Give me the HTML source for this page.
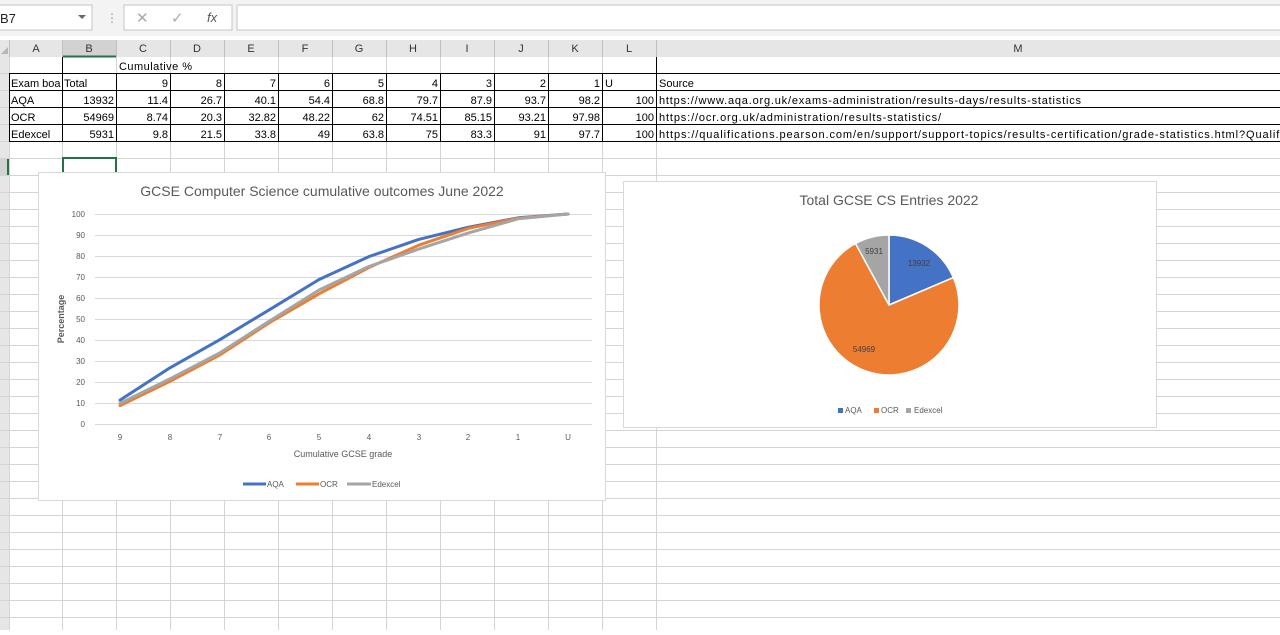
<!DOCTYPE html>
<html><head><meta charset="utf-8"><style>
body{margin:0;width:1280px;height:630px;overflow:hidden;background:#fff;font-family:"Liberation Sans",sans-serif}
svg text{font-family:"Liberation Sans",sans-serif}
</style></head><body>
<svg width="1280" height="630" viewBox="0 0 1280 630" xmlns="http://www.w3.org/2000/svg">
<rect width="1280" height="630" fill="#fff"/>
<rect x="0" y="0" width="1280" height="36" fill="#f3f3f3"/>
<rect x="-1" y="5" width="93" height="25" fill="#fff" stroke="#c6c6c6"/>
<text x="0" y="23" font-size="13" fill="#222">B7</text>
<path d="M78 15 l4 4 l4 -4z" fill="#666"/>
<text x="106" y="22" font-size="12" fill="#999">⋮</text>
<rect x="124" y="5" width="108" height="25" fill="#fff" stroke="#c6c6c6"/>
<text x="136" y="23" font-size="15" fill="#aaa">✕</text>
<text x="171" y="23" font-size="15" fill="#aaa">✓</text>
<text x="207" y="22" font-size="13" font-style="italic" fill="#555" font-family="Liberation Serif">fx</text>
<rect x="237" y="5" width="1050" height="25" fill="#fff" stroke="#c6c6c6"/>
<rect x="0" y="40" width="1280" height="17" fill="#e6e6e6"/>
<rect x="62" y="40" width="54" height="17" fill="#d2d2d2"/>
<line x1="62" y1="56.5" x2="116" y2="56.5" stroke="#217346" stroke-width="2"/>
<g stroke="#c0c0c0">
<line x1="9.5" y1="40" x2="9.5" y2="57"/><line x1="62.5" y1="40" x2="62.5" y2="57"/><line x1="116.5" y1="40" x2="116.5" y2="57"/>
<line x1="170.5" y1="40" x2="170.5" y2="57"/><line x1="224.5" y1="40" x2="224.5" y2="57"/><line x1="278.5" y1="40" x2="278.5" y2="57"/>
<line x1="332.5" y1="40" x2="332.5" y2="57"/><line x1="386.5" y1="40" x2="386.5" y2="57"/><line x1="440.5" y1="40" x2="440.5" y2="57"/>
<line x1="494.5" y1="40" x2="494.5" y2="57"/><line x1="548.5" y1="40" x2="548.5" y2="57"/><line x1="602.5" y1="40" x2="602.5" y2="57"/>
<line x1="656.5" y1="40" x2="656.5" y2="57"/>
</g>
<g font-size="11" fill="#333" text-anchor="middle">
<text x="36" y="52">A</text><text x="89" y="52">B</text><text x="143" y="52">C</text><text x="197" y="52">D</text><text x="251" y="52">E</text><text x="305" y="52">F</text><text x="359" y="52">G</text><text x="413" y="52">H</text><text x="467" y="52">I</text><text x="521" y="52">J</text><text x="575" y="52">K</text><text x="629" y="52">L</text><text x="1018" y="52">M</text>
</g>
<path d="M1 54 l7 -7 v7z" fill="#b5b5b5"/>
<rect x="0" y="57" width="9" height="573" fill="#e6e6e6"/>
<rect x="0" y="158" width="9" height="17" fill="#d2d2d2"/>
<line x1="8" y1="158" x2="8" y2="175" stroke="#217346" stroke-width="2"/>
<g stroke="#d4d4d4">
<line x1="0" y1="73.5" x2="1280" y2="73.5"/><line x1="0" y1="90.5" x2="1280" y2="90.5"/><line x1="0" y1="107.5" x2="1280" y2="107.5"/><line x1="0" y1="124.5" x2="1280" y2="124.5"/><line x1="0" y1="141.5" x2="1280" y2="141.5"/><line x1="0" y1="158.5" x2="1280" y2="158.5"/><line x1="0" y1="175.5" x2="1280" y2="175.5"/><line x1="0" y1="192.5" x2="1280" y2="192.5"/><line x1="0" y1="209.5" x2="1280" y2="209.5"/><line x1="0" y1="226.5" x2="1280" y2="226.5"/><line x1="0" y1="243.5" x2="1280" y2="243.5"/><line x1="0" y1="260.5" x2="1280" y2="260.5"/><line x1="0" y1="277.5" x2="1280" y2="277.5"/><line x1="0" y1="294.5" x2="1280" y2="294.5"/><line x1="0" y1="311.5" x2="1280" y2="311.5"/><line x1="0" y1="328.5" x2="1280" y2="328.5"/><line x1="0" y1="345.5" x2="1280" y2="345.5"/><line x1="0" y1="362.5" x2="1280" y2="362.5"/><line x1="0" y1="379.5" x2="1280" y2="379.5"/><line x1="0" y1="396.5" x2="1280" y2="396.5"/><line x1="0" y1="413.5" x2="1280" y2="413.5"/><line x1="0" y1="430.5" x2="1280" y2="430.5"/><line x1="0" y1="447.5" x2="1280" y2="447.5"/><line x1="0" y1="464.5" x2="1280" y2="464.5"/><line x1="0" y1="481.5" x2="1280" y2="481.5"/><line x1="0" y1="498.5" x2="1280" y2="498.5"/><line x1="0" y1="515.5" x2="1280" y2="515.5"/><line x1="0" y1="532.5" x2="1280" y2="532.5"/><line x1="0" y1="549.5" x2="1280" y2="549.5"/><line x1="0" y1="566.5" x2="1280" y2="566.5"/><line x1="0" y1="583.5" x2="1280" y2="583.5"/><line x1="0" y1="600.5" x2="1280" y2="600.5"/><line x1="0" y1="617.5" x2="1280" y2="617.5"/>
<line x1="9.5" y1="57" x2="9.5" y2="630"/><line x1="62.5" y1="57" x2="62.5" y2="630"/><line x1="116.5" y1="57" x2="116.5" y2="630"/><line x1="170.5" y1="57" x2="170.5" y2="630"/><line x1="224.5" y1="57" x2="224.5" y2="630"/><line x1="278.5" y1="57" x2="278.5" y2="630"/><line x1="332.5" y1="57" x2="332.5" y2="630"/><line x1="386.5" y1="57" x2="386.5" y2="630"/><line x1="440.5" y1="57" x2="440.5" y2="630"/><line x1="494.5" y1="57" x2="494.5" y2="630"/><line x1="548.5" y1="57" x2="548.5" y2="630"/><line x1="602.5" y1="57" x2="602.5" y2="630"/><line x1="656.5" y1="57" x2="656.5" y2="630"/>
</g>
<g stroke="#000">
<line x1="9" y1="73.5" x2="1280" y2="73.5"/><line x1="9" y1="90.5" x2="1280" y2="90.5"/><line x1="9" y1="107.5" x2="1280" y2="107.5"/><line x1="9" y1="124.5" x2="1280" y2="124.5"/><line x1="9" y1="141.5" x2="1280" y2="141.5"/>
<line x1="9.5" y1="73" x2="9.5" y2="142"/><line x1="62.5" y1="57" x2="62.5" y2="142"/><line x1="116.5" y1="73" x2="116.5" y2="142"/><line x1="170.5" y1="73" x2="170.5" y2="142"/><line x1="224.5" y1="73" x2="224.5" y2="142"/><line x1="278.5" y1="73" x2="278.5" y2="142"/><line x1="332.5" y1="73" x2="332.5" y2="142"/><line x1="386.5" y1="73" x2="386.5" y2="142"/><line x1="440.5" y1="73" x2="440.5" y2="142"/><line x1="494.5" y1="73" x2="494.5" y2="142"/><line x1="548.5" y1="73" x2="548.5" y2="142"/><line x1="602.5" y1="73" x2="602.5" y2="142"/><line x1="656.5" y1="57" x2="656.5" y2="142"/>
</g>
<rect x="63" y="158" width="53" height="17" fill="none" stroke="#217346" stroke-width="2"/>
<g font-size="11" fill="#000">
<text x="119" y="70" textLength="73">Cumulative %</text>
<text x="11" y="87">Exam boa</text><text x="64" y="87">Total</text>
<text x="11" y="104">AQA</text><text x="11" y="121">OCR</text><text x="11" y="138">Edexcel</text>
<text x="605" y="87">U</text><text x="659" y="87">Source</text>
<text x="659" y="104" textLength="422">https://www.aqa.org.uk/exams-administration/results-days/results-statistics</text>
<text x="659" y="121" textLength="282">https://ocr.org.uk/administration/results-statistics/</text>
<text x="659" y="138" textLength="630">https://qualifications.pearson.com/en/support/support-topics/results-certification/grade-statistics.html?Qualific</text>
</g>
<g font-size="11" fill="#000" text-anchor="end">
<text x="114" y="104">13932</text><text x="114" y="121">54969</text><text x="114" y="138">5931</text>
<text x="168" y="87">9</text><text x="222" y="87">8</text><text x="276" y="87">7</text><text x="330" y="87">6</text><text x="384" y="87">5</text><text x="438" y="87">4</text><text x="492" y="87">3</text><text x="546" y="87">2</text><text x="600" y="87">1</text>
<text x="168" y="104">11.4</text><text x="222" y="104">26.7</text><text x="276" y="104">40.1</text><text x="330" y="104">54.4</text><text x="384" y="104">68.8</text><text x="438" y="104">79.7</text><text x="492" y="104">87.9</text><text x="546" y="104">93.7</text><text x="600" y="104">98.2</text><text x="654" y="104">100</text>
<text x="168" y="121">8.74</text><text x="222" y="121">20.3</text><text x="276" y="121">32.82</text><text x="330" y="121">48.22</text><text x="384" y="121">62</text><text x="438" y="121">74.51</text><text x="492" y="121">85.15</text><text x="546" y="121">93.21</text><text x="600" y="121">97.98</text><text x="654" y="121">100</text>
<text x="168" y="138">9.8</text><text x="222" y="138">21.5</text><text x="276" y="138">33.8</text><text x="330" y="138">49</text><text x="384" y="138">63.8</text><text x="438" y="138">75</text><text x="492" y="138">83.3</text><text x="546" y="138">91</text><text x="600" y="138">97.7</text><text x="654" y="138">100</text>
</g>
<rect x="38.5" y="172.5" width="567" height="328" fill="#fff" stroke="#d9d9d9"/>
<text x="322" y="196" font-size="14" fill="#595959" text-anchor="middle">GCSE Computer Science cumulative outcomes June 2022</text>
<g stroke="#d9d9d9">
<line x1="95" y1="214.5" x2="592" y2="214.5"/><line x1="95" y1="235.5" x2="592" y2="235.5"/><line x1="95" y1="256.5" x2="592" y2="256.5"/><line x1="95" y1="277.5" x2="592" y2="277.5"/><line x1="95" y1="298.5" x2="592" y2="298.5"/><line x1="95" y1="319.5" x2="592" y2="319.5"/><line x1="95" y1="340.5" x2="592" y2="340.5"/><line x1="95" y1="361.5" x2="592" y2="361.5"/><line x1="95" y1="382.5" x2="592" y2="382.5"/><line x1="95" y1="403.5" x2="592" y2="403.5"/><line x1="95" y1="424.5" x2="592" y2="424.5"/>
</g>
<g font-size="8" fill="#595959" text-anchor="end">
<text x="85" y="217">100</text><text x="85" y="238">90</text><text x="85" y="259">80</text><text x="85" y="280">70</text><text x="85" y="301">60</text><text x="85" y="322">50</text><text x="85" y="343">40</text><text x="85" y="364">30</text><text x="85" y="385">20</text><text x="85" y="406">10</text><text x="85" y="427">0</text>
</g>
<g font-size="8" fill="#595959" text-anchor="middle">
<text x="120" y="440">9</text><text x="170" y="440">8</text><text x="220" y="440">7</text><text x="269" y="440">6</text><text x="319" y="440">5</text><text x="369" y="440">4</text><text x="419" y="440">3</text><text x="468" y="440">2</text><text x="518" y="440">1</text><text x="568" y="440">U</text>
<text x="343" y="457" font-size="9">Cumulative GCSE grade</text>
</g>
<text transform="translate(64,319) rotate(-90)" font-size="9" fill="#595959" text-anchor="middle" font-weight="bold">Percentage</text>
<g fill="none" stroke-width="3" stroke-linejoin="round" stroke-linecap="round">
<polyline stroke="#4472c4" points="120,400.1 169.8,367.9 219.6,339.8 269.3,309.8 319.1,279.5 368.9,256.6 418.7,239.4 468.5,227.2 518.2,217.8 568,214"/>
<polyline stroke="#ed7d31" points="120,405.6 169.8,381.4 219.6,355.1 269.3,322.7 319.1,293.8 368.9,267.5 418.7,245.2 468.5,228.3 518.2,218.2 568,214"/>
<polyline stroke="#a5a5a5" points="120,403.4 169.8,378.9 219.6,353 269.3,321.1 319.1,290 368.9,266.5 418.7,249.1 468.5,232.9 518.2,218.8 568,214"/>
</g>
<g stroke-width="3">
<line x1="243" y1="484" x2="266" y2="484" stroke="#4472c4"/><line x1="296" y1="484" x2="319" y2="484" stroke="#ed7d31"/><line x1="347" y1="484" x2="371" y2="484" stroke="#a5a5a5"/>
</g>
<g font-size="8" fill="#595959"><text x="267" y="487">AQA</text><text x="320" y="487">OCR</text><text x="372" y="487">Edexcel</text></g>
<rect x="623.5" y="181.5" width="533" height="246" fill="#fff" stroke="#d9d9d9"/>
<text x="889" y="205" font-size="14" fill="#595959" text-anchor="middle">Total GCSE CS Entries 2022</text>
<g stroke="#fff" stroke-width="1.5" stroke-linejoin="round">
<path d="M889,305 L889,235 A70,70 0 0 1 953.4,277.6 Z" fill="#4472c4"/>
<path d="M889,305 L953.4,277.6 A70,70 0 1 1 855.5,243.5 Z" fill="#ed7d31"/>
<path d="M889,305 L855.5,243.5 A70,70 0 0 1 889,235 Z" fill="#a5a5a5"/>
</g>
<g font-size="8" fill="#404040" text-anchor="middle">
<text x="919" y="266">13932</text><text x="864" y="352">54969</text><text x="874" y="254">5931</text>
</g>
<rect x="838" y="408" width="5" height="5" fill="#4472c4"/><rect x="874" y="408" width="5" height="5" fill="#ed7d31"/><rect x="906" y="408" width="5" height="5" fill="#a5a5a5"/>
<g font-size="8" fill="#595959"><text x="845" y="413">AQA</text><text x="881" y="413">OCR</text><text x="914" y="413">Edexcel</text></g>
</svg>
</body></html>
